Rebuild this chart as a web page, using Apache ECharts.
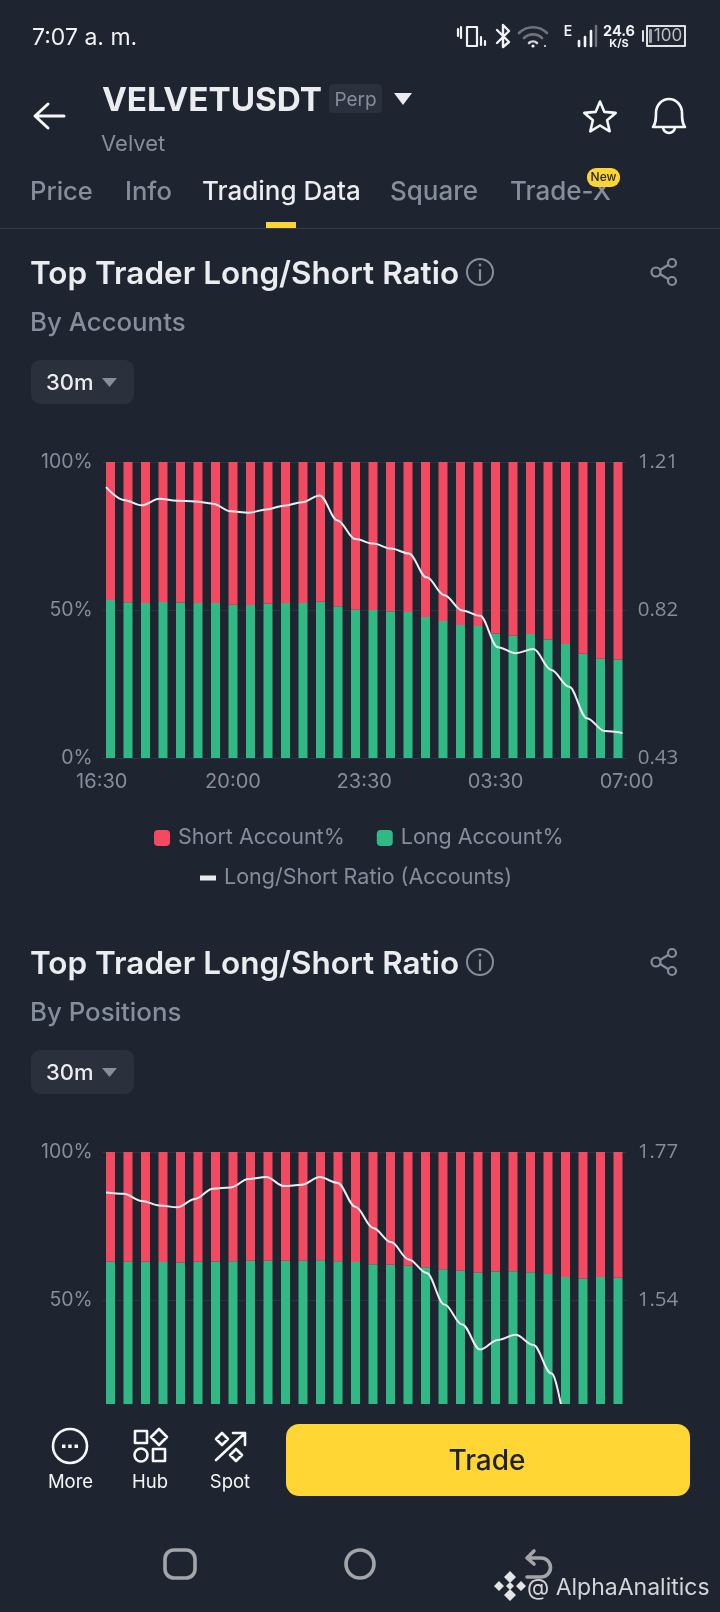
<!DOCTYPE html>
<html><head><meta charset="utf-8">
<style>html,body{margin:0;padding:0;background:#1e2530}#c{width:720px;height:1612px}</style>
<script src="https://cdn.jsdelivr.net/npm/echarts@6/dist/echarts.min.js"></script>
</head><body><div id="c"></div>
<script>
const timeLabels = ['16:30','20:00','23:30','03:30','07:00'];
const barSlots = ['16:30','17:00','17:30','18:00','18:30','19:00','19:30','20:00','20:30','21:00','21:30','22:00','22:30','23:00','23:30','00:00','00:30','01:00','01:30','02:00','02:30','03:00','03:30','04:00','04:30','05:00','05:30','06:00','06:30','07:00'];
const accountsLong = [53.4,52.6,52.4,52.7,52.5,52.4,52.4,51.8,51.7,52.1,52.4,52.4,52.8,51.3,50.1,50.0,49.6,49.3,47.6,46.3,44.9,44.6,42.1,41.3,41.9,40.0,38.5,35.2,33.5,33.3];
const accountsShort = [46.6,47.4,47.6,47.3,47.5,47.6,47.6,48.2,48.3,47.9,47.6,47.6,47.2,48.7,49.9,50.0,50.4,50.7,52.4,53.7,55.1,55.4,57.9,58.7,58.1,60.0,61.5,64.8,66.5,66.7];
const accountsRatio = [1.144,1.110,1.096,1.113,1.108,1.106,1.100,1.080,1.076,1.085,1.095,1.104,1.122,1.056,1.007,0.995,0.982,0.969,0.906,0.859,0.819,0.805,0.722,0.706,0.717,0.662,0.618,0.535,0.501,0.496];
const positionsLong = [62.9,62.9,62.9,62.8,62.7,62.9,63.0,63.1,63.3,63.3,63.3,63.3,63.4,63.1,62.8,62.1,61.9,61.6,61.1,60.4,59.9,59.2,59.6,59.7,59.4,58.8,57.8,57.3,57.8,57.5];
const positionsShort = [37.1,37.1,37.1,37.2,37.3,37.1,37.0,36.9,36.7,36.7,36.7,36.7,36.6,36.9,37.2,37.9,38.1,38.4,38.9,39.6,40.1,40.8,40.4,40.3,40.6,41.2,42.2,42.7,42.2,42.5];
const positionsRatio = [1.707,1.705,1.694,1.687,1.684,1.697,1.713,1.715,1.728,1.731,1.717,1.719,1.731,1.722,1.685,1.652,1.630,1.603,1.582,1.533,1.502,1.463,1.478,1.486,1.470,1.426,1.341,1.335,1.345,1.340];
const pctTicks = [0,50,100];
const accountsTicks = [0.43,0.82,1.21];
const positionsTicks = [1.31,1.54,1.77];
const accountsLegend = ['Short Account%','Long Account%','Long/Short Ratio (Accounts)'];
const positionsLegend = ['Short Position%','Long Position%','Long/Short Ratio (Positions)'];

const BG='#1e2530', RED='#F34A62', GREEN='#30B885', LINE='#EAECEF', GREY='#848E9C', WHITE='#EAECEF', YEL='#FCD535', F='Inter';
const axisGrey='#2b3240';
const chart=echarts.init(document.getElementById('c'),null,{renderer:'canvas',width:720,height:1612});

function grid(top){return {left:101.75,width:525,top:top,height:296,containLabel:false};}
function xAxes(i){return [
 {type:'category',gridIndex:i,data:barSlots,axisLine:{show:true,lineStyle:{color:axisGrey}},axisTick:{show:false},axisLabel:{show:false},splitLine:{show:false}},
 {type:'category',gridIndex:i,position:'bottom',boundaryGap:false,data:timeLabels,axisLine:{show:false},axisTick:{show:false},
  axisLabel:{color:GREY,fontFamily:F,fontSize:20,margin:14,interval:0,hideOverlap:false,showMinLabel:true,showMaxLabel:true},splitLine:{show:false}},
 /* the ratio line runs a little wider than the bar centres, from bar edge to bar edge */
 {type:'value',gridIndex:i,show:false,min:-0.238,max:barSlots.length-1+0.238,splitLine:{show:false}}
];}
function yAxes(i,ticks){return [
 {type:'value',gridIndex:i,min:0,max:100,interval:50,position:'left',axisLine:{show:false},axisTick:{show:false},
  axisLabel:{color:GREY,fontFamily:F,fontSize:19.5,margin:9,formatter:v=>v+'%',customValues:pctTicks},splitLine:{show:true,lineStyle:{color:axisGrey,width:1}}},
 {type:'value',gridIndex:i,min:ticks[0],max:ticks[2],position:'right',axisLine:{show:false},axisTick:{show:false},
  axisLabel:{color:GREY,fontFamily:'Open Sans',fontSize:20.5,margin:11,formatter:v=>v.toFixed(2),customValues:ticks},splitLine:{show:false}}
];}
function series(i,names,long,short,ratio){const xi=i*3,yi=i*2;return [
 {name:names[1],type:'bar',xAxisIndex:xi,yAxisIndex:yi,stack:'s'+i,data:long,barWidth:9,itemStyle:{color:GREEN},silent:true},
 {name:names[0],type:'bar',xAxisIndex:xi,yAxisIndex:yi,stack:'s'+i,data:short,barWidth:9,itemStyle:{color:RED},silent:true},
 {name:names[2],type:'line',xAxisIndex:xi+2,yAxisIndex:yi+1,data:ratio.map((v,k)=>[k,v]),smooth:0.35,smoothMonotone:'x',showSymbol:false,symbol:'none',lineStyle:{color:LINE,width:2},itemStyle:{color:LINE},z:5,silent:true}
];}

/* ---- page chrome helpers ---- */
let iconNo=0;
const T=(text,x,y,size,fill,o={})=>({type:'text',z:o.z||100,x,y,style:{text,fill,fontFamily:o.f||F,fontSize:size,fontWeight:o.w||400,textAlign:o.a||'left',textVerticalAlign:'middle'}});
const P=(d,stroke,w,fill)=>{const name='icon'+(iconNo++);echarts.graphic.registerShape(name,echarts.graphic.extendPath(d,{}));return {type:name,z:100,style:{stroke:stroke||null,lineWidth:w||0,fill:fill||'none',lineCap:'round',lineJoin:'round'}};};
const R=(x,y,width,height,r,fill,z)=>({type:'rect',z:z||100,shape:{x,y,width,height,r},style:{fill}});
const C=(cx,cy,r,stroke,w,fill)=>({type:'circle',z:100,shape:{cx,cy,r},style:{stroke:stroke||null,lineWidth:w||0,fill:fill||'none'}});
function star(cx,cy,R1,R2){let d='';for(let k=0;k<10;k++){const r=k%2?R2:R1,a=-Math.PI/2+k*Math.PI/5;d+=(k?'L':'M')+(cx+r*Math.cos(a)).toFixed(1)+' '+(cy+r*Math.sin(a)).toFixed(1);}return d+'Z';}
function section(dy,sub){return [
 T('Top Trader Long/Short Ratio',30,274.5+dy,31.5,WHITE,{w:600}),
 C(480,272+dy,13,GREY,2),
 P(`M480 ${270+dy}V${280+dy}`,GREY,2.2),C(480,265+dy,1.4,null,0,GREY),
 C(672,263+dy,4,GREY,2.2),C(656,272+dy,4.5,GREY,2.2),C(672,281+dy,4,GREY,2.2),
 P(`M660 ${270+dy}L668 ${265+dy}M660 ${274+dy}L668 ${279+dy}`,GREY,2.2),
 T(sub,30,323+dy,25.8,GREY,{w:500}),
 R(31,360+dy,103,44,9,'#2a303c'),
 T('30m',46,383+dy,22,WHITE,{w:500}),
 P(`M102 ${378+dy}H117L109.5 ${387+dy}Z`,null,0,GREY)
];}
const graphics=[
 /* bottom mask over the second chart */
 R(0,1404,720,208,0,BG,90),
 /* status bar */
 T('7:07 a. m.',32,38,23,'#f2f3f5'),
 P('M467 27H477V46H467ZM458 29V36M461 27V38M481 37V45M485 41V45','#f2f3f5',2.2),
 P('M497 30L509 42L503 47V25L509 31L497 43','#f2f3f5',2.4),
 P('M519 33A20 20 0 0 1 547 33M524 38A13 13 0 0 1 542 38','#6d7480',2.6),
 P('M529 43A6 6 0 0 1 537 43','#cfd2d6',2.6),C(533,46,1.6,null,0,'#f2f3f5'),C(545,46,1,null,0,'#f2f3f5'),
 T('E',568,32,14,'#f2f3f5',{a:'center',w:600}),
 P('M579 46V41M585 46V37M591 46V31','#f2f3f5',2.6),P('M596 46V26','#6d7480',2.4),
 T('24.6',619,32,14.5,'#f2f3f5',{a:'center',w:700}),
 T('K/S',619,43.5,11,'#f2f3f5',{a:'center',w:700}),
 P('M647 26H685V46H647ZM643 31V41','#dfe1e4',2),R(649,29,3,14,1,'#9aa0a8'),
 T('100',668,36,17,'#b9bdc4',{a:'center'}),
 /* header */
 P('M64 116H36M48 104L35 116L48 128','#f5f6f7',3),
 T('VELVETUSDT',102,101,33.3,WHITE,{w:700}),
 R(329,84,53,29,4,'#2a303c'),
 T('Perp',355.5,100,19,GREY,{a:'center'}),
 P('M394 93H412L403 105Z',null,0,WHITE),
 T('Velvet',101,144,22,GREY),
 P(star(600,118,16.5,7.5),'#f5f6f7',2.6),
 P('M653 127C656 123 656 119 656 113C656 105 662 99 669 99C676 99 682 105 682 113C682 119 682 123 685 127ZM663 127A6 6 0 0 0 675 127','#f5f6f7',2.6),
 /* tabs */
 T('Price',30,192,25.6,GREY,{w:500}),
 T('Info',125,192,25.6,GREY,{w:500}),
 T('Trading Data',202,192,26,WHITE,{w:500}),
 T('Square',390,192,26,GREY,{w:500}),
 T('Trade-X',510,192,26,GREY,{w:500}),
 R(587,168,33,19,9,YEL),
 T('New',603.5,177.5,12,'#1e2329',{a:'center',w:500}),
 R(266,222,30,6,0,YEL),
 R(0,228,720,1,0,'#343b47'),
 ...section(0,'By Accounts'),
 ...section(690,'By Positions'),
 /* bottom action bar */
 C(70,1446,17,'#f5f6f7',2.6),R(62,1444.5,3.5,3.5,0,'#f5f6f7'),R(68.2,1444.5,3.5,3.5,0,'#f5f6f7'),R(74.5,1444.5,3.5,3.5,0,'#f5f6f7'),
 T('More',70.5,1482,18.5,'#f5f6f7',{a:'center'}),
 P('M135 1431H147V1443H135ZM159 1429L167 1437L159 1445L151 1437ZM153 1449H165V1461H153Z','#f5f6f7',2.6),C(141,1455,6.5,'#f5f6f7',2.6),
 T('Hub',150,1482,18.5,'#f5f6f7',{a:'center'}),
 P('M216 1460L245 1433M233 1433H245V1445M222 1433L228 1439L222 1445L216 1439ZM236 1449L242 1455L236 1461L230 1455Z','#f5f6f7',2.6),
 T('Spot',230,1482,18.5,'#f5f6f7',{a:'center'}),
 R(286,1424,404,72,13,'#FFD633'),
 T('Trade',487,1462,28,'#1e2329',{a:'center',w:500}),
 /* nav bar */
 P('M174 1550H186A9 9 0 0 1 195 1559V1569A9 9 0 0 1 186 1578H174A9 9 0 0 1 165 1569V1559A9 9 0 0 1 174 1550Z','#a3a5a9',3.6),
 C(360,1564,14,'#a3a5a9',3.6),
 P('M534 1551L527 1558L534 1564M528 1558H541A9.5 9.5 0 0 1 541 1577H527','#a3a5a9',3.6),
 /* watermark */
 P('M510 1571L516 1577L510 1583L504 1577ZM499 1581L504 1586L499 1591L494 1586ZM521 1581L526 1586L521 1591L516 1586ZM510 1589L516 1595L510 1601L504 1595ZM510 1582L514 1586L510 1590L506 1586Z',null,0,'#e3e4e6'),
 T('@ AlphaAnalitics',527,1588,23,'#d3d5d8')
];

chart.setOption({
 animation:false,
 backgroundColor:BG,
 textStyle:{fontFamily:F},
 grid:[grid(462),grid(1152)],
 xAxis:[...xAxes(0),...xAxes(1)],
 yAxis:[...yAxes(0,accountsTicks),...yAxes(1,positionsTicks)],
 legend:[
  {data:[{name:accountsLegend[0],icon:'roundRect'},{name:accountsLegend[1],icon:'roundRect'}],left:154,top:827,padding:0,itemWidth:16,itemHeight:16,itemGap:32,textStyle:{color:GREY,fontFamily:F,fontSize:21.5,padding:[0,0,0,3]},selectedMode:false},
  {data:[{name:accountsLegend[2],icon:'rect'}],left:200,top:867,padding:0,itemWidth:16,itemHeight:5,itemGap:8,textStyle:{color:GREY,fontFamily:F,fontSize:21.5,padding:[0,0,0,3]},selectedMode:false}
 ],
 series:[...series(0,accountsLegend,accountsLong,accountsShort,accountsRatio),...series(1,positionsLegend,positionsLong,positionsShort,positionsRatio)],
 graphic:{elements:graphics}
});
</script></body></html>
